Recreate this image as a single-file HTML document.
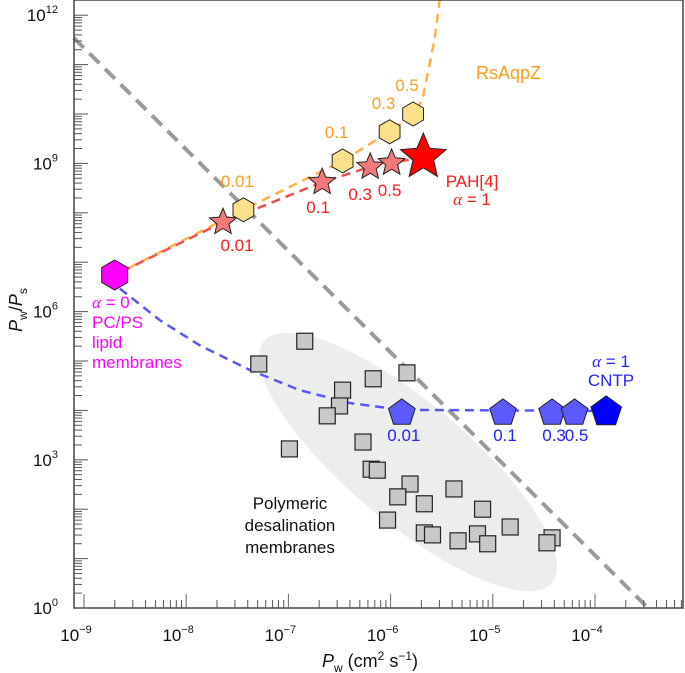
<!DOCTYPE html>
<html><head><meta charset="utf-8"><style>
body{margin:0;background:#fff}
svg{display:block;font-family:"Liberation Sans",Arial,sans-serif}
</style></head><body>
<svg id="chart" width="685" height="673" viewBox="0 0 685 673" xmlns="http://www.w3.org/2000/svg">
<g id="bg"></g><g id="marks"></g><g id="axes"></g><g id="labels"></g>
</svg>
<script>
// ---- data (log10 values) ----
const xTickExps = [-9,-8,-7,-6,-5,-4];
const yTickExps = [0,3,6,9,12];
const lipidPoint = [-8.70, 6.74];
const aqpAlphas = ["0.01","0.1","0.3","0.5"];
const aqpX = [-7.44,-6.47,-6.01,-5.78];
const aqpY = [8.06,9.05,9.64,10.0];
const pahAlphas = ["0.01","0.1","0.3","0.5"];
const pahX = [-7.64,-6.67,-6.20,-5.99];
const pahY = [7.81,8.62,8.93,9.01];
const pahFull = [-5.68, 9.13];
const cntpAlphas = ["0.01","0.1","0.3","0.5"];
const cntpX = [-5.89,-4.90,-4.42,-4.20];
const cntpY = [3.97,3.97,3.97,3.97];
const cntpFull = [-3.89, 3.99];
const polyX = [-6.84,-7.29,-6.17,-5.84,-6.47,-6.50,-6.62,-6.99,-6.27,-6.19,-6.13,-5.81,-5.93,-5.67,-5.38,-5.10,-6.03,-5.67,-5.59,-5.34,-5.15,-5.05,-4.83,-4.42,-4.47];
const polyY = [5.40,4.94,4.64,4.76,4.41,4.09,3.89,3.22,3.36,2.81,2.79,2.51,2.25,2.11,2.41,2.00,1.78,1.52,1.48,1.36,1.50,1.30,1.64,1.42,1.32];
const tradeoffX = [-9.1,-3.48];
const tradeoffY = [11.54,0];
const cntpCurveX = [-8.67,-8.26,-7.87,-7.38,-6.89,-6.40,-5.89,-3.89];
const cntpCurveY = [6.50,5.83,5.32,4.82,4.41,4.15,4.01,3.99];
const aqpTailX = [-5.69,-5.57,-5.52];
const aqpTailY = [10.28,11.50,12.31];

// ---- axes ----
const L=74,R=683,T=0,B=608;
const sx=v=>84+(v+9)*102.2;
const sy=v=>608-v*49.4;
const NS="http://www.w3.org/2000/svg";
function mk(tag,attrs,parent){const e=document.createElementNS(NS,tag);for(const k in attrs)e.setAttribute(k,attrs[k]);document.getElementById(parent).appendChild(e);return e;}
const pts=(xs,ys)=>xs.map((x,i)=>sx(x).toFixed(1)+","+sy(ys[i]).toFixed(1)).join(" ");

// ellipse background
let el=mk("ellipse",{cx:408,cy:462,rx:188,ry:60,transform:"rotate(40 408 462)",fill:"#eceded"},"bg");



// frame
let fr=mk("rect",{x:L,y:T,width:R-L,height:B-T,fill:"none",stroke:"#444","stroke-width":1.5},"axes");



// ticks
for(let d=-9;d<=-3;d++){for(let m=1;m<10;m++){const v=d+Math.log10(m);const x=sx(v);if(x<L||x>R)continue;
 let t=mk("line",{x1:x,x2:x,y1:B,y2:B-(m==1?14:8),stroke:m==1?"#666":"#555","stroke-width":1},"axes");
 
 }}
for(let d=0;d<12;d++){for(let m=1;m<10;m++){const v=d+Math.log10(m);
 let t=mk("line",{x1:L,x2:L+(m==1?14:8),y1:sy(v),y2:sy(v),stroke:"#555","stroke-width":1},"axes");
 
 }}
let t12=mk("line",{x1:L,x2:L+14,y1:sy(12),y2:sy(12),stroke:"#555"},"axes");



xTickExps.forEach(e=>{let t=mk("text",{x:sx(e)-8,y:641,"text-anchor":"middle","font-size":17,fill:"#111"},"labels");
 
 
 t.innerHTML="10<tspan dy='-8' font-size='11'>"+(e<0?"\u2212"+(-e):e)+"</tspan>";});
yTickExps.forEach(e=>{let t=mk("text",{x:58,y:sy(e)+6,"text-anchor":"end","font-size":17,fill:"#111"},"labels");
 
 
 t.innerHTML="10<tspan dy='-8' font-size='11'>"+e+"</tspan>";});

// tradeoff line
let tl=mk("polyline",{points:pts(tradeoffX,tradeoffY),fill:"none",stroke:"#9a9a9a","stroke-width":4,"stroke-dasharray":"14 8"},"marks");



// curves
let cc=mk("polyline",{points:sx(lipidPoint[0])+","+sy(lipidPoint[1])+" "+pts(cntpCurveX,cntpCurveY),fill:"none",stroke:"#5555ff","stroke-width":2.5,"stroke-dasharray":"9 6"},"marks");


let ac=mk("polyline",{points:sx(lipidPoint[0])+","+sy(lipidPoint[1])+" "+pts(aqpX,aqpY)+" "+pts(aqpTailX,aqpTailY),fill:"none",stroke:"#ffb347","stroke-width":2.5,"stroke-dasharray":"9 6"},"marks");


let pc=mk("polyline",{points:sx(lipidPoint[0])+","+sy(lipidPoint[1])+" "+pts(pahX,pahY)+" "+sx(pahFull[0])+","+sy(pahFull[1]),fill:"none",stroke:"#f05050","stroke-width":2.5,"stroke-dasharray":"9 6","stroke-dashoffset":7},"marks");



// shapes
function poly(cx,cy,r,n,rot,inner){let p=[];const k=inner?2*n:n;for(let i=0;i<k;i++){const rr=inner&&i%2?r*inner:r;const a=rot+i*2*Math.PI/k;p.push((cx+rr*Math.cos(a)).toFixed(1)+","+(cy+rr*Math.sin(a)).toFixed(1));}return p.join(" ");}
polyX.forEach((x,i)=>{let s=mk("rect",{x:sx(x)-8,y:sy(polyY[i])-8,width:16,height:16,fill:"#c8c8c8",stroke:"#222","stroke-width":1.2},"marks");
 
 });
cntpX.forEach((x,i)=>{let p=mk("polygon",{points:poly(sx(x),sy(cntpY[i])+1,14,5,-Math.PI/2),fill:"#5a5aff",stroke:"#222","stroke-width":1},"marks");
 
 });
let pf=mk("polygon",{points:poly(sx(cntpFull[0]),sy(cntpFull[1])+1,16,5,-Math.PI/2),fill:"#0000ff",stroke:"#222","stroke-width":1},"marks");


aqpX.forEach((x,i)=>{let h=mk("polygon",{points:poly(sx(x),sy(aqpY[i]),12,6,-Math.PI/2),fill:"#fde08c",stroke:"#222","stroke-width":1},"marks");
 
 });
let lh=mk("polygon",{points:poly(sx(lipidPoint[0]),sy(lipidPoint[1]),15,6,-Math.PI/2),fill:"#ff00ff",stroke:"#222","stroke-width":1},"marks");


pahX.forEach((x,i)=>{let s=mk("polygon",{points:poly(sx(x),sy(pahY[i]),14,5,-Math.PI/2,0.45),fill:"#f47a7a",stroke:"#222","stroke-width":1},"marks");
 
 });
let bs=mk("polygon",{points:poly(sx(pahFull[0]),sy(pahFull[1]),24,5,-Math.PI/2,0.45),fill:"#ff0000",stroke:"#222","stroke-width":1},"marks");



function lab(x,y,txt,col,name,anchor){let t=mk("text",{x:x,y:y,"text-anchor":anchor||"middle","font-size":17,fill:col},"labels");t.textContent=txt;
 
 return t;}
aqpX.forEach((x,i)=>lab(sx(x)-6,sy(aqpY[i])-23,aqpAlphas[i],"#ff9d1a","rsaqpz-alpha-label"));
pahX.forEach((x,i)=>lab(sx(x)+[14,-4,-10,-2][i],sy(pahY[i])+[29,31,33,33][i],pahAlphas[i],"#ff1a1a","pah-alpha-label"));
cntpX.forEach((x,i)=>lab(sx(x)+2,sy(cntpY[i])+29,cntpAlphas[i],"#2222ff","cntp-alpha-label"));
</script>
<svg width="685" height="673" style="position:absolute;left:0;top:0" font-family="Liberation Sans, Arial, sans-serif">
<text x="476" y="79" font-size="18" fill="#ff9d1a">RsAqpZ</text>
<text x="472" y="187" font-size="17" fill="#ff1a1a" text-anchor="middle">PAH[4]</text>
<text x="472" y="205" font-size="17" fill="#ff1a1a" text-anchor="middle"><tspan font-family="Liberation Serif" font-style="italic">α</tspan> = 1</text>
<text x="611" y="367" font-size="17" fill="#2222ff" text-anchor="middle"><tspan font-family="Liberation Serif" font-style="italic">α</tspan> = 1</text>
<text x="611" y="386" font-size="17" fill="#2222ff" text-anchor="middle">CNTP</text>
<g fill="#ff00ff" font-size="17">
<text x="92" y="308"><tspan font-family="Liberation Serif" font-style="italic">α</tspan> = 0</text>
<text x="92" y="328">PC/PS</text>
<text x="92" y="348">lipid</text>
<text x="92" y="368">membranes</text>
</g>
<g fill="#111" font-size="17" text-anchor="middle">
<text x="290" y="509">Polymeric</text>
<text x="290" y="531">desalination</text>
<text x="290" y="553">membranes</text>
</g>
<text x="370" y="667" font-size="18" fill="#111" text-anchor="middle"><tspan font-style="italic">P</tspan><tspan font-size="12" dy="5">w</tspan><tspan dy="-5"> (cm</tspan><tspan font-size="12" dy="-7">2</tspan><tspan dy="7"> s</tspan><tspan font-size="12" dy="-7">−1</tspan><tspan dy="7">)</tspan></text>
<text transform="translate(22,310) rotate(-90)" font-size="18" fill="#111" text-anchor="middle"><tspan font-style="italic">P</tspan><tspan font-size="12" dy="5">w</tspan><tspan dy="-5">/</tspan><tspan font-style="italic">P</tspan><tspan font-size="12" dy="5">s</tspan></text>
</svg>
</body></html>
